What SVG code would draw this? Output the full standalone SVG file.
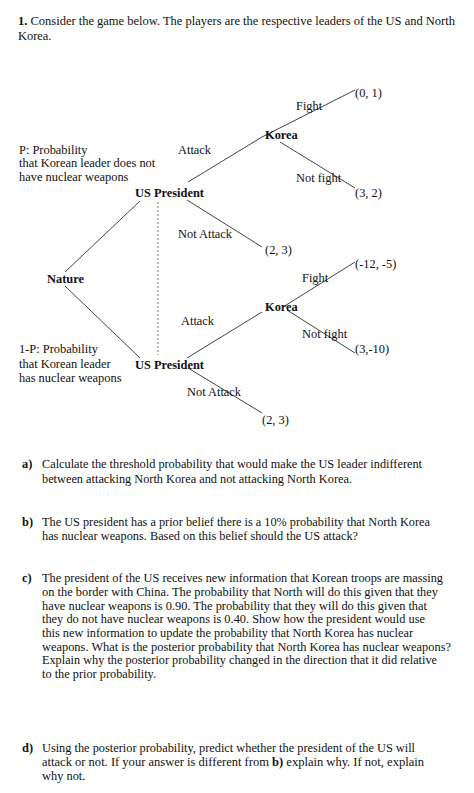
<svg xmlns="http://www.w3.org/2000/svg" width="474" height="793" viewBox="0 0 474 793">
<style>
text{font-family:"Liberation Serif","Times New Roman",serif;font-size:12.4px;fill:#111}
.b{font-weight:bold}
.e{stroke:#444;stroke-width:1;fill:none}
.d{stroke:#777;stroke-width:1;stroke-dasharray:2,2;fill:none}
</style>
<rect width="474" height="793" fill="#fff"/>
<g id="title">
<text x="18" y="25" textLength="437" lengthAdjust="spacingAndGlyphs"><tspan class="b">1.</tspan> Consider the game below. The players are the respective leaders of the US and North</text>
<text x="18" y="40">Korea.</text>
</g>
<g id="connectors">
<line class="e" x1="262" y1="137" x2="355" y2="90"/>
<line class="e" x1="280" y1="142" x2="355" y2="188"/>
<line class="e" x1="188" y1="182" x2="262" y2="137"/>
<line class="e" x1="187" y1="200" x2="262" y2="247"/>
<line class="e" x1="140" y1="201" x2="65" y2="272"/>
<line class="e" x1="65" y1="286" x2="140" y2="358"/>
<line class="d" x1="158" y1="202" x2="158" y2="355"/>
<line class="e" x1="283" y1="307" x2="355" y2="262"/>
<line class="e" x1="287" y1="310" x2="355" y2="353"/>
<line class="e" x1="187" y1="358" x2="262" y2="312"/>
<line class="e" x1="188" y1="368" x2="262" y2="413"/>
</g>
<g id="nature"><text class="b" x="47" y="283">Nature</text></g>
<g id="us1"><text class="b" x="135" y="197">US President</text></g>
<g id="us2"><text class="b" x="135" y="369">US President</text></g>
<g id="korea1"><text class="b" x="265" y="139">Korea</text></g>
<g id="korea2"><text class="b" x="265" y="311">Korea</text></g>
<g id="labels">
<text x="19" y="154">P: Probability</text>
<text x="19" y="167">that Korean leader does not</text>
<text x="19" y="181">have nuclear weapons</text>
<text x="178" y="154">Attack</text>
<text x="296" y="110">Fight</text>
<text x="355" y="97">(0, 1)</text>
<text x="296" y="182">Not fight</text>
<text x="355" y="197">(3, 2)</text>
<text x="178" y="238">Not Attack</text>
<text x="265" y="254">(2, 3)</text>
<text x="355" y="268">(-12, -5)</text>
<text x="302" y="282">Fight</text>
<text x="181" y="325">Attack</text>
<text x="302" y="338">Not fight</text>
<text x="355" y="353">(3,-10)</text>
<text x="19" y="353">1-P: Probability</text>
<text x="19" y="368">that Korean leader</text>
<text x="19" y="382">has nuclear weapons</text>
<text x="187" y="396">Not Attack</text>
<text x="262" y="424">(2, 3)</text>
</g>
<g id="questions">
<text class="b" x="22" y="468">a)</text>
<text x="42" y="468" textLength="380" lengthAdjust="spacingAndGlyphs">Calculate the threshold probability that would make the US leader indifferent</text>
<text x="42" y="483" textLength="310" lengthAdjust="spacingAndGlyphs">between attacking North Korea and not attacking North Korea.</text>
<text class="b" x="22" y="526">b)</text>
<text x="42" y="526" textLength="388" lengthAdjust="spacingAndGlyphs">The US president has a prior belief there is a 10% probability that North Korea</text>
<text x="42" y="540" textLength="316" lengthAdjust="spacingAndGlyphs">has nuclear weapons. Based on this belief should the US attack?</text>
<text class="b" x="22" y="582">c)</text>
<text x="42" y="582" textLength="401" lengthAdjust="spacingAndGlyphs">The president of the US receives new information that Korean troops are massing</text>
<text x="42" y="596" textLength="396" lengthAdjust="spacingAndGlyphs">on the border with China.  The probability that North will do this given that they</text>
<text x="42" y="610" textLength="385" lengthAdjust="spacingAndGlyphs">have nuclear weapons is 0.90.  The probability that they will do this given that</text>
<text x="42" y="623" textLength="383" lengthAdjust="spacingAndGlyphs">they do not have nuclear weapons is 0.40.  Show how the president would use</text>
<text x="42" y="637" textLength="371" lengthAdjust="spacingAndGlyphs">this new information to update the probability that North Korea has nuclear</text>
<text x="42" y="651" textLength="409" lengthAdjust="spacingAndGlyphs">weapons. What is the posterior probability that North Korea has nuclear weapons?</text>
<text x="42" y="664" textLength="395" lengthAdjust="spacingAndGlyphs">Explain why the posterior probability changed in the direction that it did relative</text>
<text x="42" y="678" textLength="114" lengthAdjust="spacingAndGlyphs">to the prior probability.</text>
<text class="b" x="22" y="752">d)</text>
<text x="42" y="752" textLength="373" lengthAdjust="spacingAndGlyphs">Using the posterior probability, predict whether the president of the US will</text>
<text x="42" y="766" textLength="382" lengthAdjust="spacingAndGlyphs">attack or not.  If your answer is different from <tspan class="b">b)</tspan> explain why.  If not, explain</text>
<text x="42" y="780">why not.</text>
</g>
</svg>
